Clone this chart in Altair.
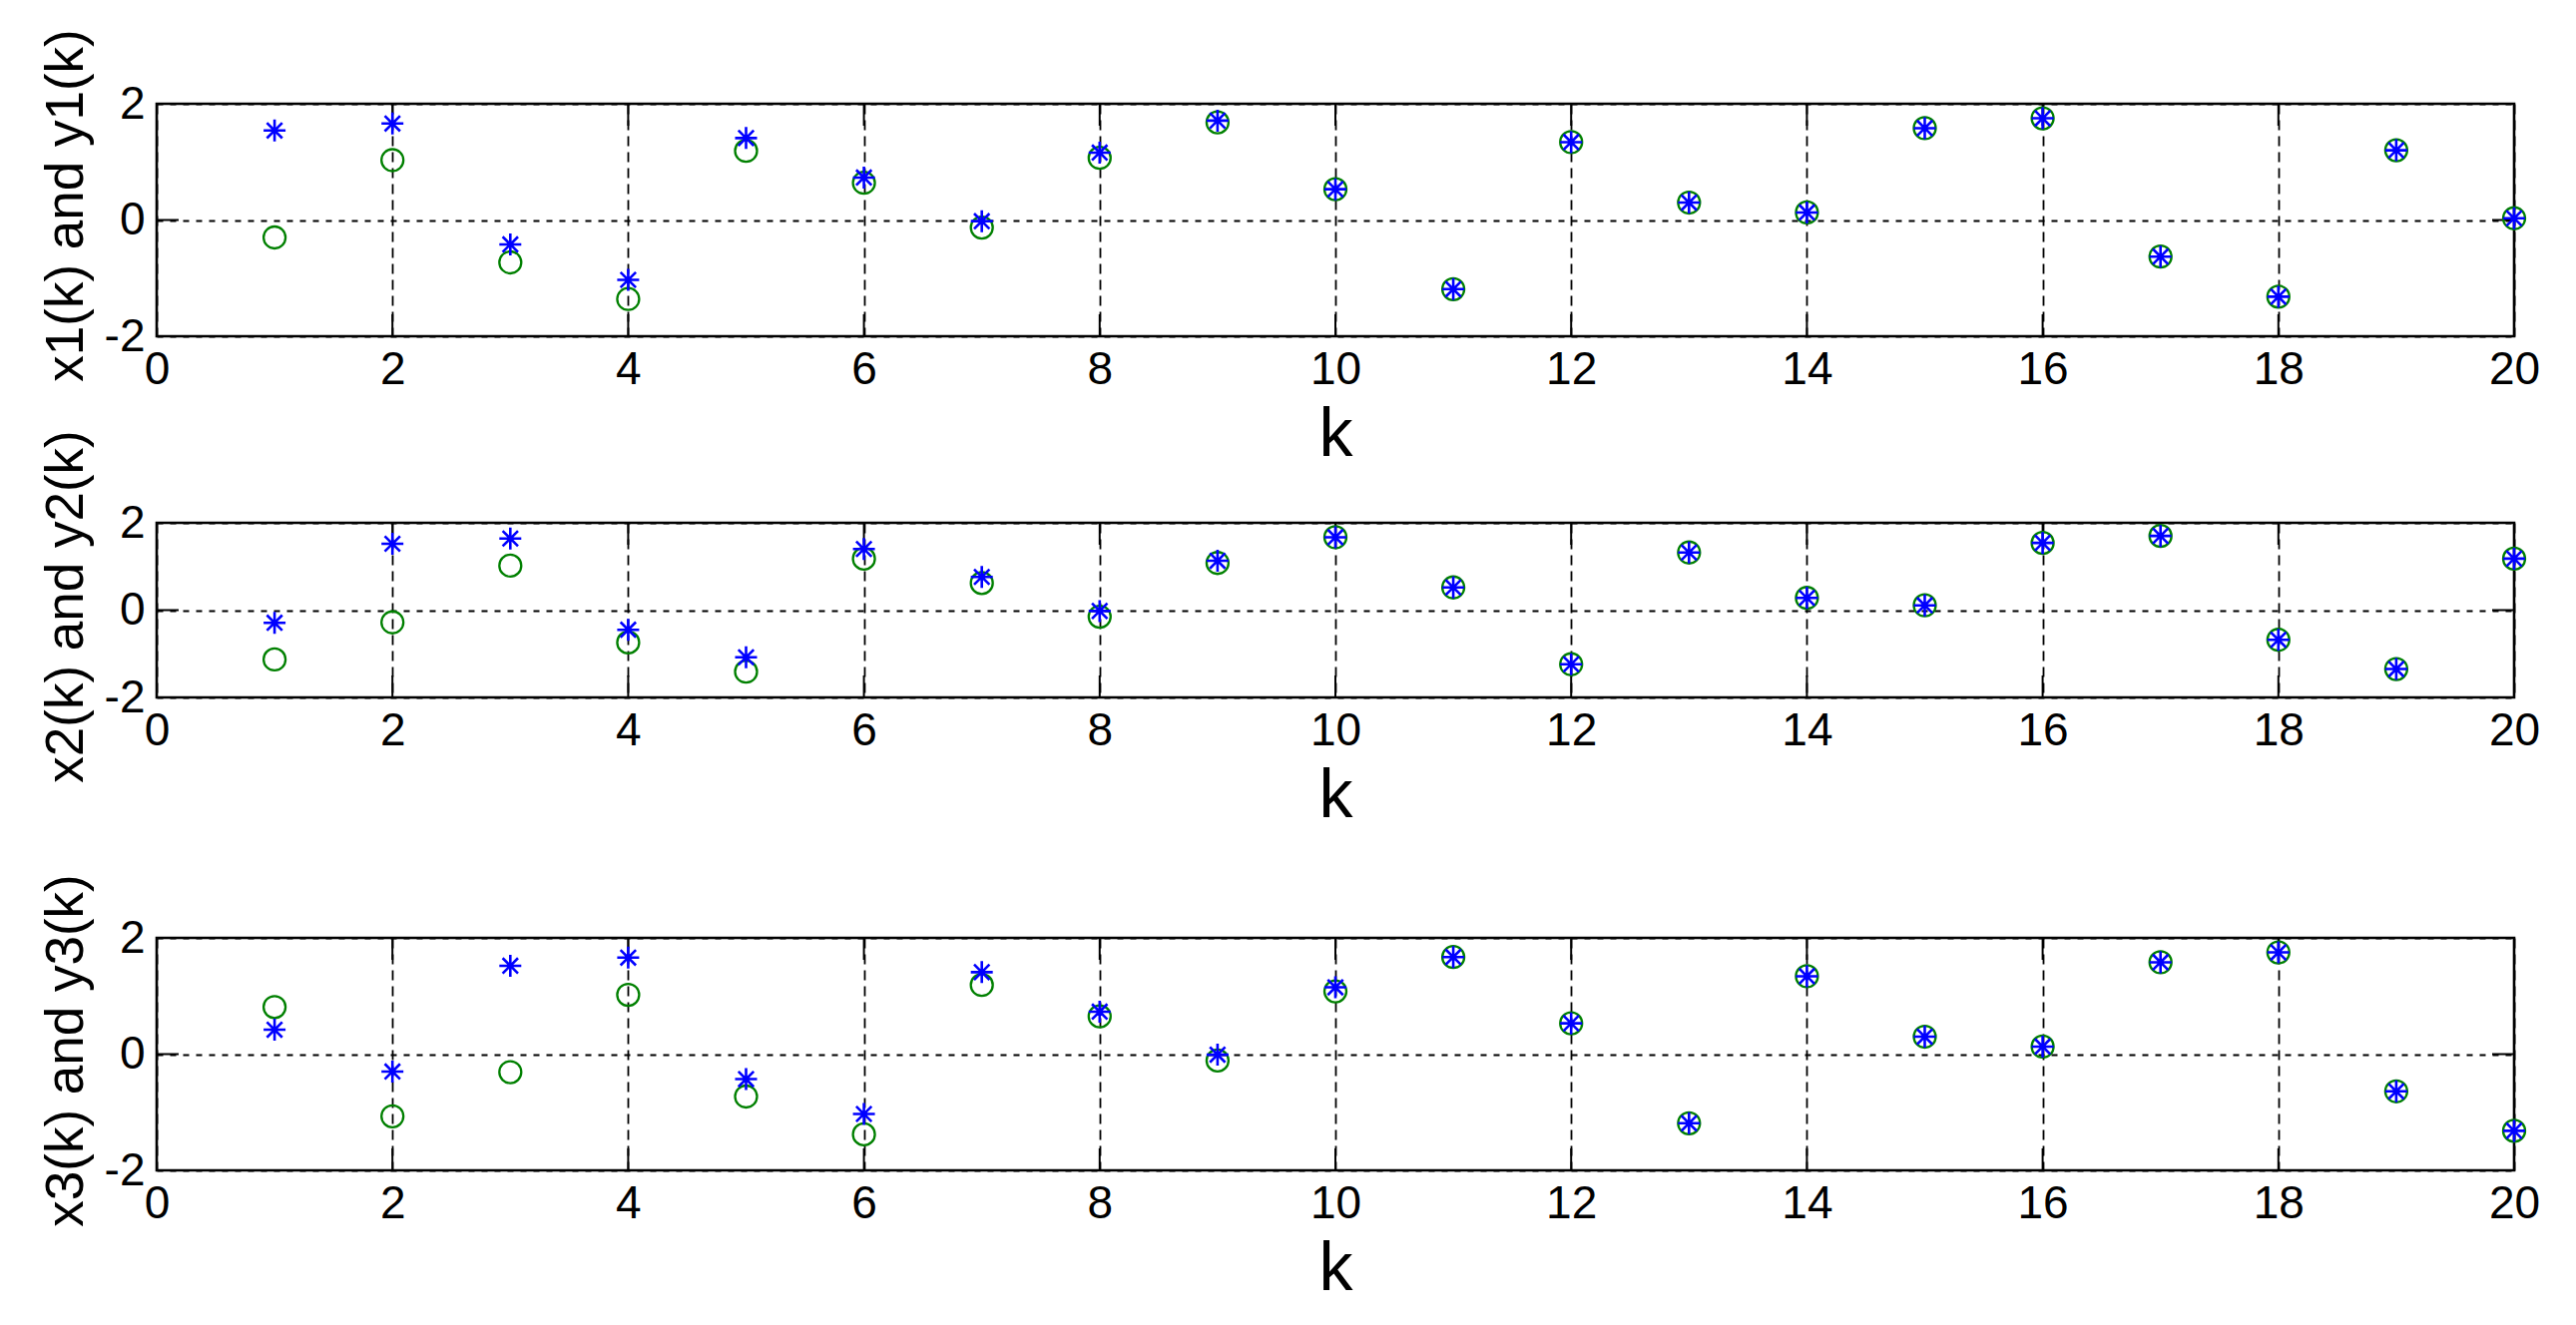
import altair as alt
import pandas as pd

# ---------------- data ----------------
k = list(range(1, 21))
x1 = [1.54, 1.66, -0.42, -1.03, 1.41, 0.73, -0.02, 1.16, 1.71, 0.53,
      -1.19, 1.34, 0.30, 0.13, 1.58, 1.75, -0.63, -1.32, 1.20, 0.03]
y1 = [-0.30, 1.03, -0.73, -1.36, 1.19, 0.64, -0.13, 1.07, 1.68, 0.53,
      -1.19, 1.34, 0.30, 0.13, 1.58, 1.75, -0.63, -1.32, 1.20, 0.03]
x2 = [-0.29, 1.52, 1.64, -0.45, -1.08, 1.40, 0.76, -0.02, 1.13, 1.67,
      0.52, -1.24, 1.32, 0.28, 0.11, 1.54, 1.70, -0.68, -1.35, 1.18]
y2 = [-1.13, -0.28, 1.02, -0.74, -1.41, 1.18, 0.62, -0.15, 1.08, 1.67,
      0.52, -1.24, 1.32, 0.28, 0.11, 1.54, 1.70, -0.68, -1.35, 1.18]
x3 = [0.42, -0.30, 1.52, 1.66, -0.43, -1.03, 1.41, 0.73, -0.01, 1.15,
      1.67, 0.53, -1.19, 1.34, 0.30, 0.13, 1.58, 1.75, -0.64, -1.32]
y3 = [0.81, -1.07, -0.31, 1.02, -0.73, -1.38, 1.19, 0.65, -0.11, 1.08,
      1.67, 0.53, -1.19, 1.34, 0.30, 0.13, 1.58, 1.75, -0.64, -1.32]

x_ticks = [0, 2, 4, 6, 8, 10, 12, 14, 16, 18, 20]
y_ticks = [-2, 0, 2]
y_titles = ["x1(k) and y1(k)", "x2(k) and y2(k)", "x3(k) and y3(k)"]
x_title = "k"

# ---------------- style ----------------
FONT = "Liberation Sans"
W = 2362
H = [233, 175, 233]
GAP = [187, 241]
TITLE_SHIFT = [15, 4, 4]
STAR = "M-1,0L1,0M0,-1L0,1M-0.7,-0.7L0.7,0.7M-0.7,0.7L0.7,-0.7"
TICK = 22


def panel(xs, ys, ytitle, h, shift):
    df = pd.DataFrame({
        "k": k + k,
        "v": xs + ys,
        "s": ["x"] * len(k) + ["y"] * len(k),
    })
    xsc = alt.Scale(domain=[0, 20], nice=False, zero=False)
    ysc = alt.Scale(domain=[-2, 2], nice=False, zero=False)
    xax = alt.Axis(values=x_ticks, title=x_title, grid=True, gridColor="black",
                   gridDash=[10, 6], gridWidth=1.8, gridOpacity=1, ticks=False,
                   domain=False, labelFontSize=46, titleFontSize=68,
                   labelPadding=11, titlePadding=9, labelFlush=False,
                   labelColor="black", titleColor="black", labelFont=FONT,
                   titleFont=FONT, titleFontWeight="normal",
                   labelExpr="'' + datum.value")
    yax = alt.Axis(values=y_ticks, title=ytitle, grid=True, gridColor="black",
                   gridDash=[6, 7], gridWidth=2, gridOpacity=1, ticks=False,
                   domain=False, labelFontSize=46, titleFontSize=53,
                   labelPadding=12, titlePadding=11, labelFlush=False,
                   labelColor="black", titleColor="black", labelFont=FONT,
                   titleFont=FONT, titleFontWeight="normal",
                   titleY=h / 2 - shift,
                   labelExpr="'' + datum.value")

    base = alt.Chart(df)
    circles = base.transform_filter(alt.datum.s == "y").mark_point(
        shape="circle", size=484, filled=False, color="#008000",
        strokeWidth=2.3, opacity=1
    ).encode(x=alt.X("k:Q", scale=xsc, axis=xax),
             y=alt.Y("v:Q", scale=ysc, axis=yax))
    stars = base.transform_filter(alt.datum.s == "x").mark_point(
        shape=STAR, size=484, filled=False, color="#0000ff",
        strokeWidth=2.6, opacity=1
    ).encode(x=alt.X("k:Q", scale=xsc, axis=xax),
             y=alt.Y("v:Q", scale=ysc, axis=yax))

    tx = alt.Chart(pd.DataFrame({"t": x_ticks}))
    ty = alt.Chart(pd.DataFrame({"t": y_ticks}))
    xt_bot = tx.mark_rule(color="black", strokeWidth=2).encode(
        x=alt.X("t:Q", scale=xsc, axis=xax), y=alt.value(h), y2=alt.value(h - TICK))
    xt_top = tx.mark_rule(color="black", strokeWidth=2).encode(
        x=alt.X("t:Q", scale=xsc, axis=xax), y=alt.value(0), y2=alt.value(TICK))
    yt_left = ty.mark_rule(color="black", strokeWidth=2).encode(
        y=alt.Y("t:Q", scale=ysc, axis=yax), x=alt.value(0), x2=alt.value(TICK))
    yt_right = ty.mark_rule(color="black", strokeWidth=2).encode(
        y=alt.Y("t:Q", scale=ysc, axis=yax), x=alt.value(W - TICK), x2=alt.value(W))

    return alt.layer(xt_bot, xt_top, yt_left, yt_right, circles, stars).properties(
        width=W, height=h)


p1 = panel(x1, y1, y_titles[0], H[0], TITLE_SHIFT[0])
p2 = panel(x2, y2, y_titles[1], H[1], TITLE_SHIFT[1])
p3 = panel(x3, y3, y_titles[2], H[2], TITLE_SHIFT[2])

inner = alt.vconcat(p1, p2, spacing=GAP[0], bounds="flush")
# the nested group is laid out as if it had no height, so the outer spacing
# spans from the top of panel 1 to the top of panel 3
chart = alt.vconcat(inner, p3, spacing=H[0] + GAP[0] + H[1] + GAP[1],
                    bounds="flush").properties(
    padding={"left": 30, "top": 19, "right": 5, "bottom": 0},
    background="white",
).configure_view(
    stroke="black", strokeWidth=2.6
)

chart.save("out.html", embed_options={"renderer": "svg", "actions": False})
